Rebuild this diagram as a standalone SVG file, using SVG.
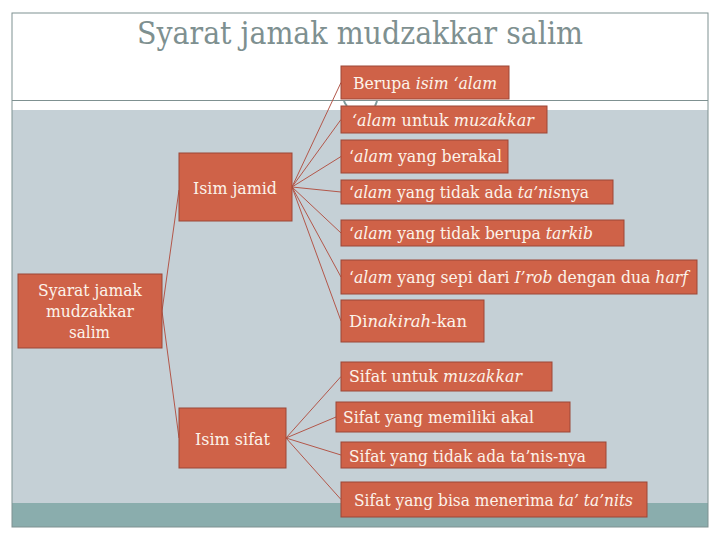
<svg xmlns="http://www.w3.org/2000/svg" width="720" height="540" viewBox="0 0 720 540">
<defs>
<style>
.bx{fill:#CF6248;stroke:#9C4636;stroke-width:1}
.i{font-style:italic}
.c{stroke:#B3574A;stroke-width:1;fill:none}
</style>
</defs>
<rect x="0" y="0" width="720" height="540" fill="#FFFFFF"/>
<g id="background">
<rect x="12" y="110" width="696" height="393" fill="#C5D0D6"/>
<rect x="12" y="503" width="696" height="24" fill="#8AADAD"/>
<rect x="12" y="13" width="696" height="514" fill="none" stroke="#7F9191" stroke-width="1"/>
<line x1="12" y1="100.5" x2="708" y2="100.5" stroke="#7F9191" stroke-width="1"/>
<path d="M344,101 Q345,104 347,106 M377,101 Q376,104 375,106" stroke="#7F9A9A" stroke-width="2" fill="none"/>
</g>
<g id="title">
<text x="137" y="44" font-family="DejaVu Serif, serif" font-size="31" fill="#7E9090" textLength="446" lengthAdjust="spacingAndGlyphs">Syarat jamak mudzakkar salim</text>
</g>
<g id="connectors">
<line class="c" x1="162" y1="311" x2="179" y2="190"/>
<line class="c" x1="162" y1="311" x2="179" y2="438"/>
<line class="c" x1="292" y1="187" x2="341" y2="82.5"/>
<line class="c" x1="292" y1="187" x2="341" y2="119.5"/>
<line class="c" x1="292" y1="187" x2="341" y2="156.5"/>
<line class="c" x1="292" y1="187" x2="341" y2="192"/>
<line class="c" x1="292" y1="187" x2="341" y2="233"/>
<line class="c" x1="292" y1="187" x2="341" y2="277"/>
<line class="c" x1="292" y1="187" x2="341" y2="321"/>
<line class="c" x1="286" y1="438" x2="341" y2="376.5"/>
<line class="c" x1="286" y1="438" x2="336" y2="417"/>
<line class="c" x1="286" y1="438" x2="341" y2="455"/>
<line class="c" x1="286" y1="438" x2="341" y2="499.5"/>
</g>
<g id="nodes" font-family="DejaVu Serif Condensed, DejaVu Serif, serif" font-size="17" fill="#FCF3EA">
<g id="root">
<rect class="bx" x="18" y="274" width="144" height="74"/>
<text x="38" y="296" textLength="104" lengthAdjust="spacingAndGlyphs">Syarat jamak</text>
<text x="46" y="317" textLength="88" lengthAdjust="spacingAndGlyphs">mudzakkar</text>
<text x="69" y="338" textLength="41" lengthAdjust="spacingAndGlyphs">salim</text>
</g>
<g id="isim-jamid">
<rect class="bx" x="179" y="153" width="113" height="68"/>
<text x="193" y="194" textLength="84" lengthAdjust="spacingAndGlyphs">Isim jamid</text>
</g>
<g id="isim-sifat">
<rect class="bx" x="179" y="408" width="107" height="60"/>
<text x="195" y="445" textLength="75" lengthAdjust="spacingAndGlyphs">Isim sifat</text>
</g>
<g id="j1">
<rect class="bx" x="341" y="66" width="168" height="33"/>
<text x="353" y="89" textLength="144" lengthAdjust="spacingAndGlyphs">Berupa <tspan class="i">isim ‘alam</tspan></text>
</g>
<g id="j2">
<rect class="bx" x="341" y="106" width="206" height="27"/>
<text x="352" y="126" textLength="182" lengthAdjust="spacingAndGlyphs"><tspan class="i">‘alam</tspan> untuk <tspan class="i">muzakkar</tspan></text>
</g>
<g id="j3">
<rect class="bx" x="341" y="140" width="167" height="33"/>
<text x="349" y="162" textLength="153" lengthAdjust="spacingAndGlyphs">‘<tspan class="i">alam</tspan> yang berakal</text>
</g>
<g id="j4">
<rect class="bx" x="341" y="180" width="272" height="24"/>
<text x="349" y="198" textLength="240" lengthAdjust="spacingAndGlyphs">‘<tspan class="i">alam</tspan> yang tidak ada <tspan class="i">ta’nis</tspan>nya</text>
</g>
<g id="j5">
<rect class="bx" x="341" y="220" width="283" height="26"/>
<text x="349" y="239" textLength="244" lengthAdjust="spacingAndGlyphs">‘<tspan class="i">alam</tspan> yang tidak berupa <tspan class="i">tarkib</tspan></text>
</g>
<g id="j6">
<rect class="bx" x="341" y="260" width="356" height="34"/>
<text x="349" y="283" textLength="339" lengthAdjust="spacingAndGlyphs">‘<tspan class="i">alam</tspan> yang sepi dari <tspan class="i">I’rob</tspan> dengan dua <tspan class="i">harf</tspan></text>
</g>
<g id="j7">
<rect class="bx" x="341" y="300" width="143" height="42"/>
<text x="349" y="327" textLength="118" lengthAdjust="spacingAndGlyphs">Di<tspan class="i">nakirah</tspan>-kan</text>
</g>
<g id="s1">
<rect class="bx" x="341" y="362" width="211" height="29"/>
<text x="349" y="382" textLength="173" lengthAdjust="spacingAndGlyphs">Sifat untuk <tspan class="i">muzakkar</tspan></text>
</g>
<g id="s2">
<rect class="bx" x="336" y="402" width="234" height="30"/>
<text x="343" y="423" textLength="191" lengthAdjust="spacingAndGlyphs">Sifat yang memiliki akal</text>
</g>
<g id="s3">
<rect class="bx" x="341" y="442" width="265" height="26"/>
<text x="349" y="462" textLength="237" lengthAdjust="spacingAndGlyphs">Sifat yang tidak ada ta’nis-nya</text>
</g>
<g id="s4">
<rect class="bx" x="341" y="482" width="306" height="35"/>
<text x="354" y="506" textLength="279" lengthAdjust="spacingAndGlyphs">Sifat yang bisa menerima <tspan class="i">ta’ ta’nits</tspan></text>
</g>
</g>
</svg>
